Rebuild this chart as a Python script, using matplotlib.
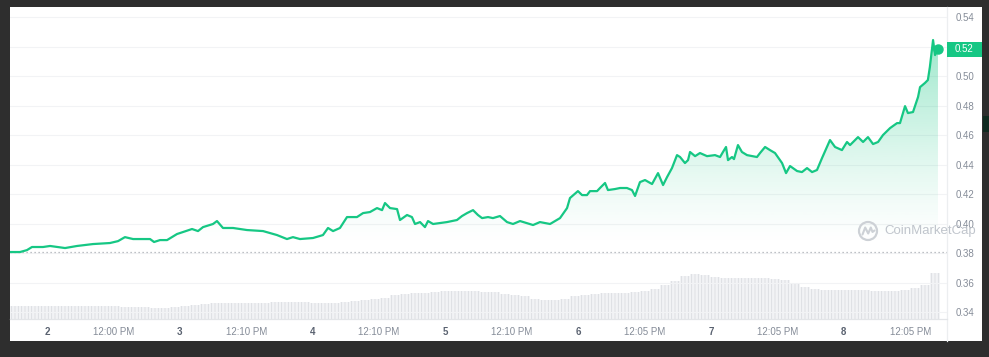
import numpy as np
import matplotlib
matplotlib.use("Agg")
import matplotlib.pyplot as plt
from matplotlib.patches import Rectangle, Polygon, Circle
from matplotlib.lines import Line2D
from matplotlib.colors import to_rgb

# ---------------- data ----------------
days = [1.721, 1.797, 1.849, 1.887, 1.970, 2.023, 2.136, 2.226, 2.346, 2.474,
        2.535, 2.587, 2.648, 2.776, 2.806, 2.851, 2.904, 2.979, 3.092, 3.137,
        3.175, 3.250, 3.280, 3.325, 3.401, 3.506, 3.627, 3.732, 3.807, 3.852,
        3.905, 4.003, 4.078, 4.116, 4.154, 4.206, 4.259, 4.334, 4.380, 4.432,
        4.485, 4.523, 4.545, 4.583, 4.636, 4.658, 4.711, 4.748, 4.771, 4.809,
        4.846, 4.869, 4.907, 5.012, 5.087, 5.125, 5.163, 5.208, 5.245, 5.276,
        5.321, 5.358, 5.411, 5.464, 5.509, 5.562, 5.660, 5.712, 5.788, 5.863,
        5.916, 5.938, 5.998, 6.029, 6.066, 6.089, 6.142, 6.164, 6.202, 6.224,
        6.277, 6.315, 6.367, 6.405, 6.428, 6.465, 6.503, 6.556, 6.601, 6.639,
        6.669, 6.706, 6.744, 6.767, 6.804, 6.827, 6.842, 6.880, 6.917, 6.970,
        7.030, 7.068, 7.090, 7.113, 7.128, 7.158, 7.173, 7.203, 7.233, 7.271,
        7.346, 7.369, 7.407, 7.444, 7.482, 7.535, 7.565, 7.595, 7.648, 7.685,
        7.723, 7.761, 7.798, 7.836, 7.896, 7.934, 7.986, 8.024, 8.047, 8.107,
        8.145, 8.182, 8.220, 8.258, 8.295, 8.348, 8.401, 8.423, 8.461, 8.483,
        8.521, 8.559, 8.574, 8.611, 8.633, 8.648, 8.672, 8.687, 8.709]

prices = [0.3809, 0.3809, 0.3822, 0.3843, 0.3843, 0.3850, 0.3836, 0.3850, 0.3863, 0.3870,
          0.3883, 0.3910, 0.3897, 0.3897, 0.3877, 0.3890, 0.3890, 0.3931, 0.3965, 0.3951,
          0.3978, 0.3999, 0.4019, 0.3972, 0.3972, 0.3958, 0.3951, 0.3924, 0.3897, 0.3910,
          0.3897, 0.3904, 0.3924, 0.3972, 0.3951, 0.3972, 0.4046, 0.4046, 0.4073, 0.4080,
          0.4107, 0.4093, 0.4141, 0.4107, 0.4100, 0.4026, 0.4060, 0.4046, 0.3999, 0.4012,
          0.3978, 0.4019, 0.3999, 0.4012, 0.4026, 0.4053, 0.4073, 0.4093, 0.4060, 0.4039,
          0.4046, 0.4039, 0.4053, 0.4012, 0.3999, 0.4019, 0.3992, 0.4012, 0.3999, 0.4039,
          0.4107, 0.4175, 0.4222, 0.4195, 0.4195, 0.4222, 0.4222, 0.4243, 0.4277, 0.4229,
          0.4236, 0.4243, 0.4243, 0.4229, 0.4189, 0.4283, 0.4297, 0.4270, 0.4344, 0.4263,
          0.4317, 0.4378, 0.4466, 0.4453, 0.4412, 0.4432, 0.4487, 0.4459, 0.4480, 0.4459,
          0.4466, 0.4453, 0.4487, 0.4521, 0.4432, 0.4453, 0.4439, 0.4534, 0.4487, 0.4466,
          0.4453, 0.4480, 0.4521, 0.4500, 0.4480, 0.4412, 0.4344, 0.4392, 0.4358, 0.4351,
          0.4378, 0.4351, 0.4365, 0.4446, 0.4568, 0.4521, 0.4500, 0.4555, 0.4534, 0.4588,
          0.4555, 0.4588, 0.4541, 0.4555, 0.4602, 0.4649, 0.4683, 0.4683, 0.4798, 0.4751,
          0.4758, 0.4860, 0.4927, 0.4955, 0.4975, 0.5063, 0.5246, 0.5144, 0.5185]

volume = [13, 13, 13, 13, 13, 13, 13, 13, 13, 13,
          13, 12, 12, 12, 11, 11, 12, 13, 14, 15,
          16, 16, 16, 16, 16, 16, 17, 17, 17, 17,
          16, 16, 16, 17, 18, 19, 20, 21, 24, 25,
          26, 26, 27, 28, 28, 28, 28, 27, 27, 25,
          24, 23, 20, 19, 19, 20, 23, 24, 25, 26,
          26, 26, 27, 28, 30, 34, 38, 43, 45, 44,
          42, 41, 41, 41, 41, 41, 40, 39, 36, 32,
          30, 29, 29, 29, 29, 29, 28, 28, 28, 29,
          31, 34, 46]
vol_first_day = 1.759
vol_last_day = 8.686

x_ticks = [2, 2.5, 3, 3.5, 4, 4.5, 5, 5.5, 6, 6.5, 7, 7.5, 8, 8.5]
x_labels = ["2", "12:00 PM", "3", "12:10 PM", "4", "12:10 PM", "5", "12:10 PM",
            "6", "12:05 PM", "7", "12:05 PM", "8", "12:05 PM"]
y_ticks = [0.34, 0.36, 0.38, 0.40, 0.42, 0.44, 0.46, 0.48, 0.50, 0.52, 0.54]
last_label = "0.52"
watermark = "CoinMarketCap"

# ---------------- style ----------------
GREEN = "#16c784"
LABEL = "#858c98"
DAYLBL = "#5a6270"
FONT = ["Liberation Sans", "DejaVu Sans"]
plt.rcParams["font.family"] = FONT
plt.rcParams["hatch.linewidth"] = 0.55

W, H = 989, 357
fig = plt.figure(figsize=(W / 100, H / 100), dpi=100, facecolor="#2e2e2e")


def fx(px):
    return px / W


def fy(py):
    return 1 - py / H


# white card (behind everything)
fig.patches.append(Rectangle((fx(10), fy(341)), fx(982) - fx(10), fy(7) - fy(341),
                             transform=fig.transFigure, facecolor="white",
                             edgecolor="none", zorder=-5))
# small dark green artefact at the right edge
fig.patches.append(Rectangle((fx(983), fy(132)), fx(989) - fx(983), fy(116) - fy(132),
                             transform=fig.transFigure, facecolor="#0f2a20",
                             edgecolor="none", zorder=-5))
# vertical separator to the price scale
fig.add_artist(Line2D([fx(947), fx(947)], [fy(7), fy(341)], color="#eceef0", lw=0.9,
                      transform=fig.transFigure, zorder=-4))

rect = [fx(10), fy(319), fx(947) - fx(10), fy(7) - fy(319)]
XMIN, XMAX = 1.7214, 8.777
YMIN, YMAX = 0.3355, 0.547

# volume axes (behind)
axv = fig.add_axes(rect, zorder=1)
axv.patch.set_visible(False)
vol_days = np.linspace(vol_first_day, vol_last_day, len(volume))
bw = (vol_last_day - vol_first_day) / (len(volume) - 1)
axv.bar(vol_days, volume, width=bw, color="#f2f3f5", edgecolor="#d8dbe0",
        linewidth=0, hatch="|||||", zorder=1)
axv.set_xlim(XMIN, XMAX)
axv.set_ylim(0, 312)
axv.axis("off")

# price axes
ax = fig.add_axes(rect, zorder=2)
ax.patch.set_visible(False)

for yt in y_ticks:
    ax.axhline(yt, color="#f2f3f5", lw=0.8, zorder=0)

# reference dotted line at opening price
ax.axhline(prices[0], color="#a9adb4", lw=0.9, ls=(0, (1, 2.2)), zorder=2)

# gradient fill below line
fill_base = 0.385
top = 0.525
verts = list(zip(days, prices)) + [(days[-1], fill_base), (days[0], fill_base)]
poly = Polygon(verts, closed=True, facecolor="none", edgecolor="none",
               transform=ax.transData)
ax.add_patch(poly)
n = 256
g = np.linspace(0, 1, n).reshape(-1, 1)
rgba = np.zeros((n, 1, 4))
rgba[..., :3] = to_rgb(GREEN)
rgba[..., 3] = 0.42 * g ** 1.3
im = ax.imshow(rgba, extent=[days[0], days[-1], fill_base, top], origin="lower",
               aspect="auto", zorder=3, interpolation="bilinear")
im.set_clip_path(poly)

ax.plot(days, prices, color=GREEN, lw=1.6, zorder=4, solid_joinstyle="round")
ax.plot(days[-1], prices[-1], "o", ms=6.5, color=GREEN, zorder=5)

ax.set_xlim(XMIN, XMAX)
ax.set_ylim(YMIN, YMAX)
ax.set_aspect("auto")

ax.yaxis.tick_right()
ax.set_yticks(y_ticks)
ax.set_yticklabels([f"{v:.2f}" for v in y_ticks])
ax.tick_params(axis="y", length=0, pad=6, labelsize=7, labelcolor=LABEL)
ax.set_xticks(x_ticks)
ax.set_xticklabels(x_labels)
ax.tick_params(axis="x", length=0, pad=5.5, labelsize=7, labelcolor=LABEL)
for lbl in ax.get_xticklabels():
    if ":" not in lbl.get_text():
        lbl.set_color(DAYLBL)
        lbl.set_fontweight("bold")

for s in ["top", "left", "right"]:
    ax.spines[s].set_visible(False)
ax.spines["bottom"].set_color("#e3e5e8")
ax.spines["bottom"].set_linewidth(0.9)

# last-price tag
fig.canvas.draw()
ypix = ax.transData.transform((days[-1], prices[-1]))[1]
yfig = ypix / H
hbox = 15 / H
fig.patches.append(Rectangle((fx(947), yfig - hbox / 2), fx(982) - fx(947), hbox,
                             transform=fig.transFigure, facecolor=GREEN,
                             edgecolor="none", zorder=5))
fig.text(fx(955), yfig, last_label, color="white", fontsize=7, ha="left", va="center",
         zorder=6)

# watermark
cx, cy = 868, 231
wm = fig.add_axes([fx(cx - 11), fy(cy + 11), 22 / W, 22 / H], zorder=3)
wm.set_xlim(-11, 11)
wm.set_ylim(-11, 11)
wm.axis("off")
wm.add_patch(Circle((0, 0), 9, facecolor="none", edgecolor="#cdd1d6", lw=1.6))
wm.plot([-5.5, -2.8, 0.2, 2.8, 4.5, 6.5], [-3.5, 3.5, -2.5, 3.5, -1, 0.5],
        color="#cdd1d6", lw=1.5, solid_joinstyle="round", solid_capstyle="round")
fig.text(fx(884), fy(cy), watermark, color="#c0c5cc", fontsize=9.5, ha="left",
         va="center", fontweight="normal", zorder=4)

fig.savefig("out.png", dpi=100, facecolor=fig.get_facecolor())
